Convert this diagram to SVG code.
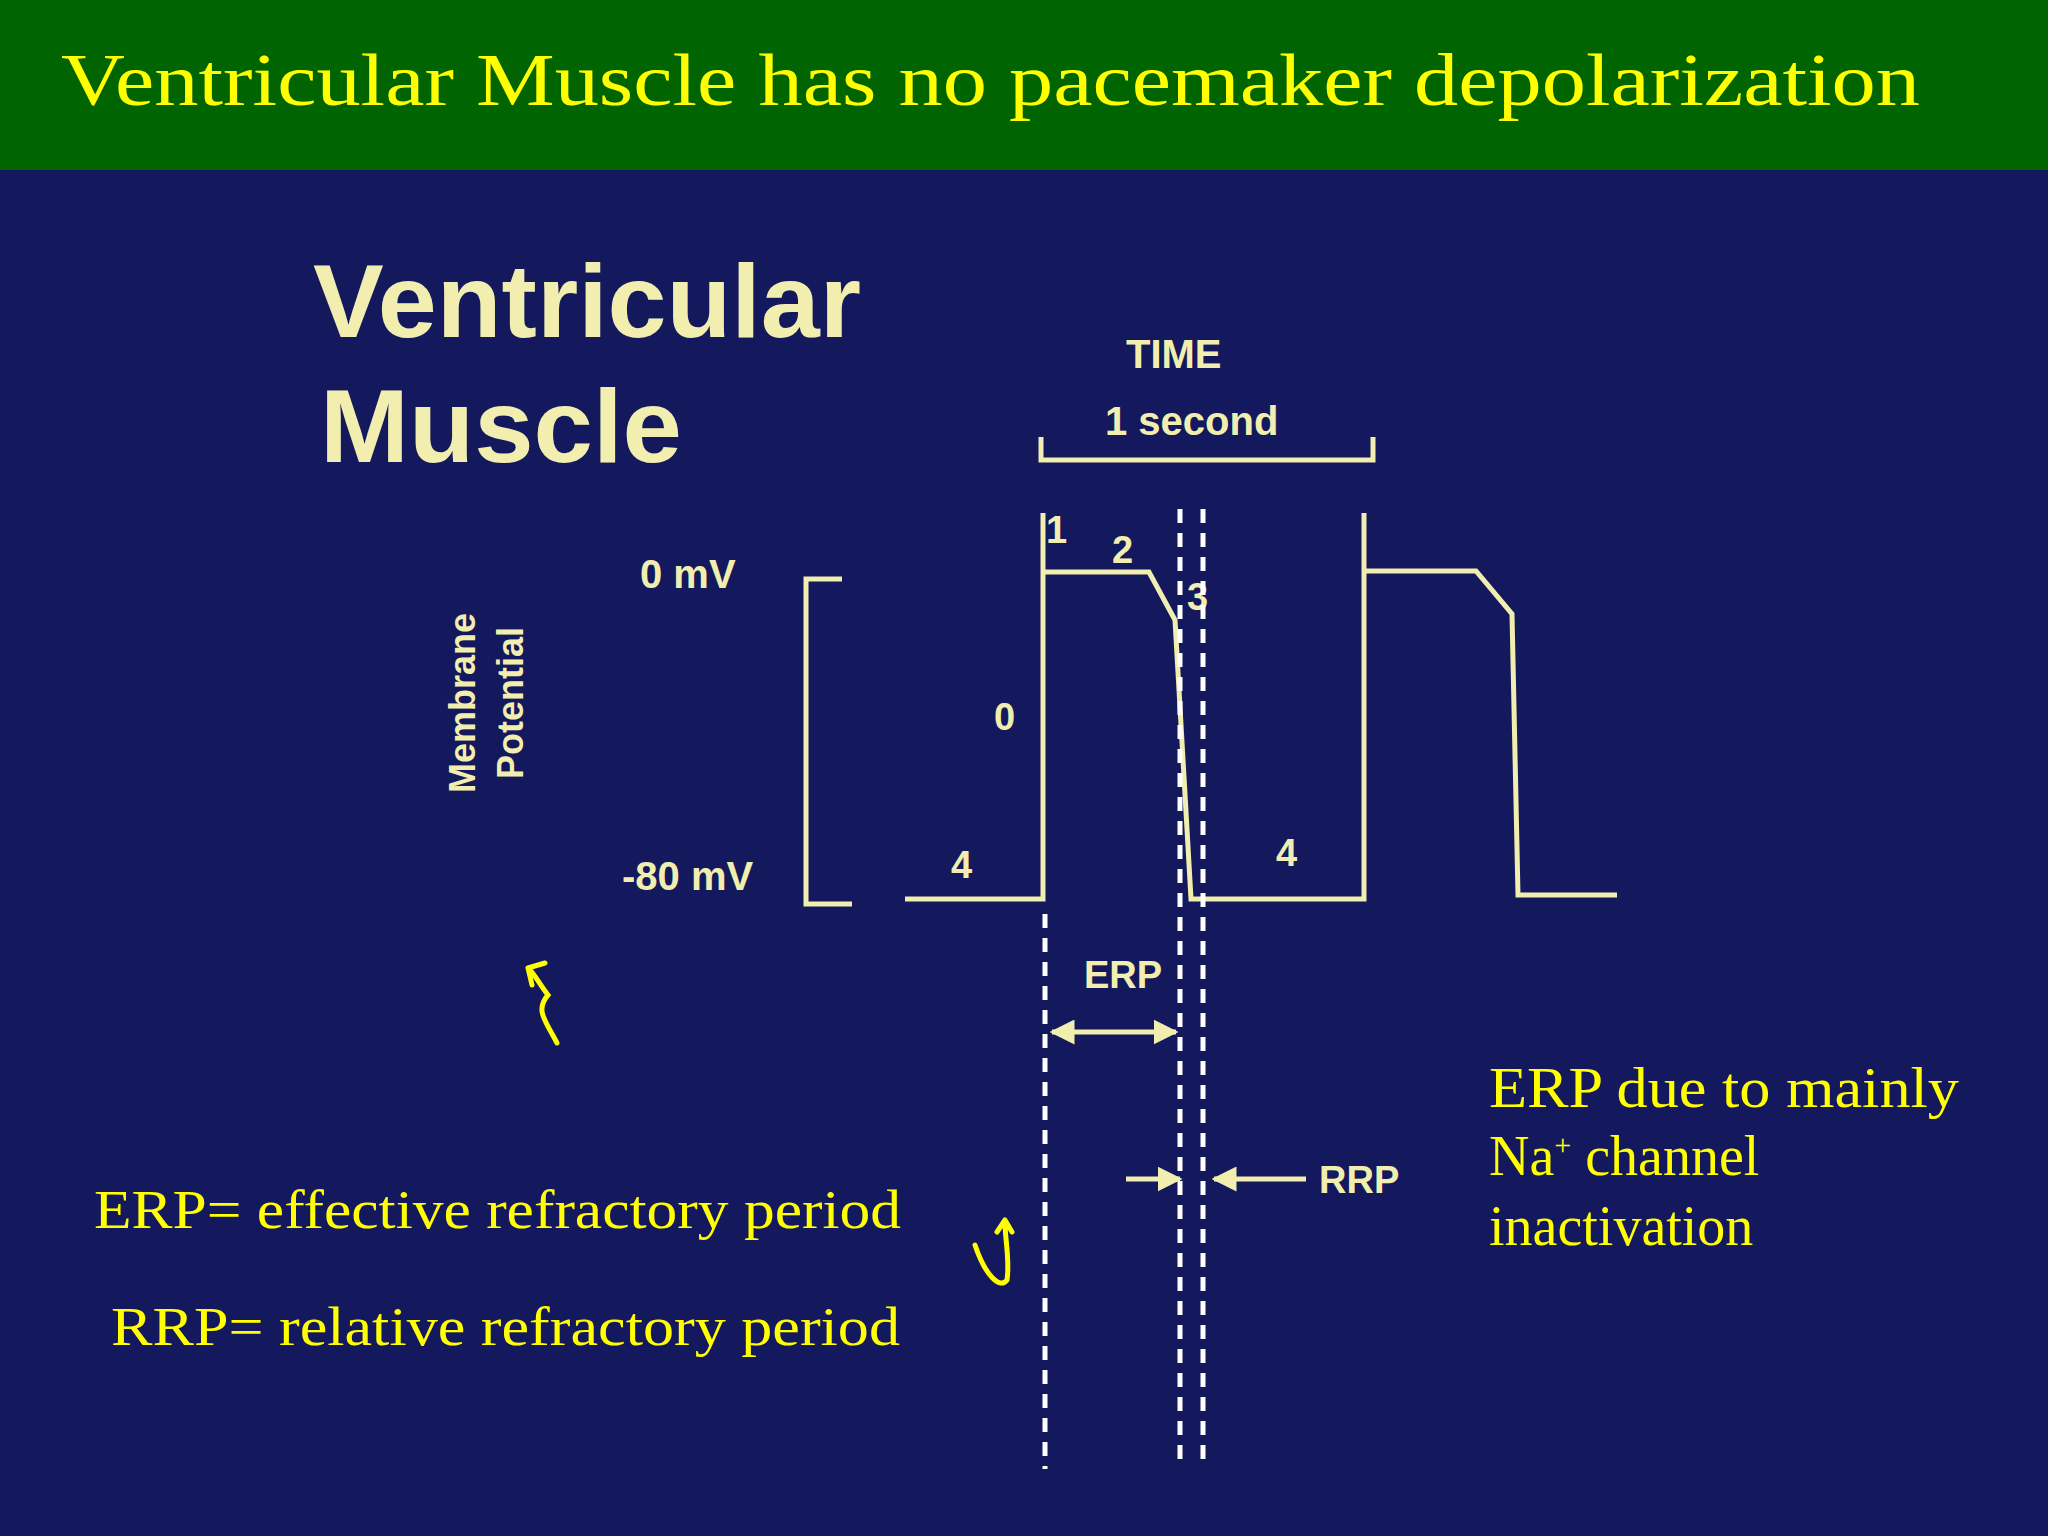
<svg xmlns="http://www.w3.org/2000/svg" width="2048" height="1536" viewBox="0 0 2048 1536">
<style>
.y{fill:#ffff00;font-family:"Liberation Serif",serif}
.p{fill:#f2eeb0;font-family:"Liberation Sans",Arial,sans-serif;font-weight:bold}
.w{fill:none;stroke:#f2eeb0;stroke-width:5}
.d{fill:none;stroke:#ffffff;stroke-width:5;stroke-dasharray:14 10}
.c{fill:none;stroke:#ffff00;stroke-width:5;stroke-linecap:round}
</style>
<defs>
<marker id="ah" viewBox="0 0 10 10" refX="9" refY="5" markerWidth="5" markerHeight="5" orient="auto-start-reverse"><path d="M0,0 L10,5 L0,10 Z" fill="#f2eeb0"/></marker>
</defs>
<rect width="2048" height="1536" fill="#13195c"/>
<rect width="2048" height="170" fill="#006400"/>
<text class="y" x="61" y="105" font-size="74" textLength="1859" lengthAdjust="spacingAndGlyphs">Ventricular Muscle has no pacemaker depolarization</text>
<g id="heading">
<text class="p" x="313" y="337" font-size="104" textLength="548" lengthAdjust="spacingAndGlyphs">Ventricular</text>
<text class="p" x="320" y="462" font-size="104" textLength="362" lengthAdjust="spacingAndGlyphs">Muscle</text>
</g>
<g id="axis">
<text class="p" x="1126" y="368" font-size="40">TIME</text>
<text class="p" x="1105" y="435" font-size="40">1 second</text>
<path class="w" d="M1041,437 V460 H1373 V437"/>
<text class="p" x="640" y="588" font-size="40">0 mV</text>
<text class="p" x="622" y="890" font-size="40">-80 mV</text>
<path class="w" d="M842,579 H806 V904 H852"/>
<text class="p" font-size="36" text-anchor="middle" transform="translate(475,703) rotate(-90)">Membrane</text>
<text class="p" font-size="36" text-anchor="middle" transform="translate(523,703) rotate(-90)">Potential</text>
</g>
<g id="wave">
<path class="w" d="M905,899 H1043 V513 M1043,572 H1149 L1175,620 L1191,899 H1364 V513 M1364,571 H1476 L1512,614 L1518,895 H1617"/>
<text class="p" x="1046" y="543" font-size="38">1</text>
<text class="p" x="1112" y="563" font-size="38">2</text>
<text class="p" x="1187" y="610" font-size="38">3</text>
<text class="p" x="994" y="730" font-size="38">0</text>
<text class="p" x="951" y="878" font-size="38">4</text>
<text class="p" x="1276" y="866" font-size="38">4</text>
</g>
<g id="connectors">
<path class="d" d="M1045,914 V1469"/>
<path class="d" d="M1180,509 V1469"/>
<path class="d" d="M1203,509 V1469"/>
<path class="w" d="M1052,1032 H1176" marker-start="url(#ah)" marker-end="url(#ah)"/>
<path class="w" d="M1126,1179 H1180" marker-end="url(#ah)"/>
<path class="w" d="M1306,1179 H1214" marker-end="url(#ah)"/>
</g>
<g id="labels">
<text class="p" x="1084" y="988" font-size="38">ERP</text>
<text class="p" x="1319" y="1193" font-size="38">RRP</text>
</g>
<g id="scribbles">
<path class="c" d="M557,1043 C545,1020 535,1010 548,995 C540,985 535,975 530,970 M528,968 L545,963 M528,968 L532,985"/>
<path class="c" d="M975,1245 C985,1275 1000,1290 1007,1280 C1010,1260 1005,1240 1005,1222 M1005,1220 L997,1232 M1005,1220 L1012,1232"/>
</g>
<g id="notes">
<text class="y" x="94" y="1228" font-size="54" textLength="807" lengthAdjust="spacingAndGlyphs">ERP= effective refractory period</text>
<text class="y" x="111" y="1345" font-size="54" textLength="789" lengthAdjust="spacingAndGlyphs">RRP= relative refractory period</text>
<text class="y" x="1489" y="1107" font-size="56" textLength="470" lengthAdjust="spacingAndGlyphs">ERP due to mainly</text>
<text class="y" x="1489" y="1175" font-size="56">Na<tspan font-size="30" dy="-20">+</tspan><tspan dy="20"> channel</tspan></text>
<text class="y" x="1489" y="1245" font-size="56">inactivation</text>
</g>
</svg>
